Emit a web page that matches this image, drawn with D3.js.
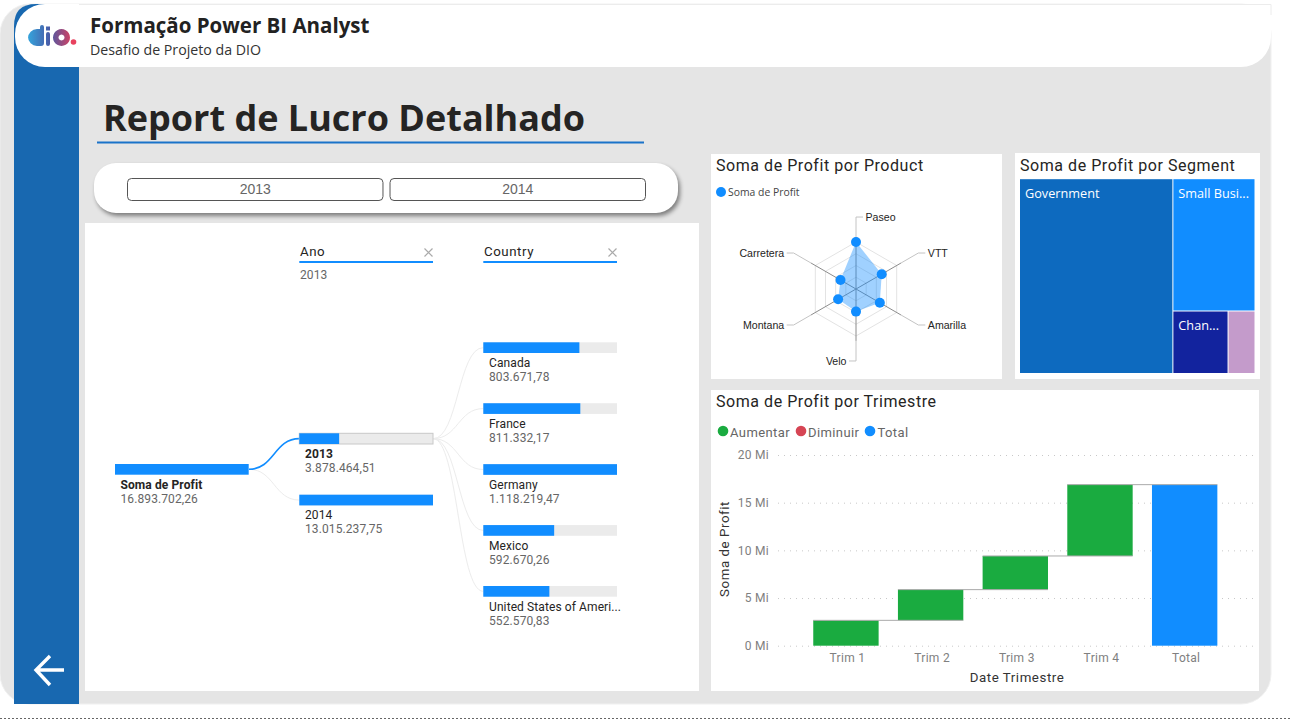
<!DOCTYPE html>
<html>
<head>
<meta charset="utf-8">
<script src="https://d3js.org/d3.v7.min.js"></script>
<style>
body { margin: 0; background: #fff; }
svg { display: block; }
text { font-family: "Open Sans", sans-serif; }
.din { font-family: Roboto, sans-serif; letter-spacing: 0.55px; }
.arial { font-family: "Liberation Sans", Arial, sans-serif; }
.tree { font-family: Roboto, sans-serif; letter-spacing: 0.1px; }
</style>
</head>
<body>
<svg id="page" width="1292" height="719"></svg>
<script>
// dados
var YEARS = ["2013", "2014"];
var YEAR_VALUES = [3878464.51, 13015237.75];
var YEAR_LABELS = ["3.878.464,51", "13.015.237,75"];
var COUNTRIES = ["Canada", "France", "Germany", "Mexico", "United States of Ameri..."];
var COUNTRY_VALUES = [803671.78, 811332.17, 1118219.47, 592670.26, 552570.83];
var COUNTRY_LABELS = ["803.671,78", "811.332,17", "1.118.219,47", "592.670,26", "552.570,83"];

var PRODUCTS = ["Paseo", "VTT", "Amarilla", "Velo", "Montana", "Carretera"];
var PRODUCT_PROFIT = [4.8, 3.03, 2.81, 2.31, 2.11, 1.83];
var RADAR_RINGS = [1.2, 2.4, 3.6, 4.8];

var SEGMENTS = ["Government", "Small Business", "Channel Partners", "Midmarket"];
var SEGMENT_LABELS = ["Government", "Small Busi...", "Chan...", ""];
var SEGMENT_PROFIT = [11.0, 4.0, 1.27, 0.62];
var SEGMENT_COLORS = ["#0d6abf", "#118dff", "#12239e", "#c49bcb"];

var QUARTERS = ["Trim 1", "Trim 2", "Trim 3", "Trim 4"];
var QUARTER_DELTAS = [2.66, 3.22, 3.53, 7.48];
var WATERFALL_TICKS = [0, 5, 10, 15, 20];

var BLUE = "#118dff";
var GREEN = "#1aab40";
var RED = "#d64554";

var svg = d3.select("#page");

function addText(parent, x, y, str, size, color, cls) {
    return parent.append("text")
        .attr("x", x)
        .attr("y", y)
        .attr("class", cls || null)
        .attr("font-size", size)
        .attr("fill", color)
        .text(str);
}

function panel(x, y, w, h) {
    svg.append("rect").attr("x", x).attr("y", y).attr("width", w).attr("height", h).attr("fill", "#fff");
}

// fundo
svg.append("rect").attr("x", 0).attr("y", 4).attr("width", 1271).attr("height", 700)
    .attr("rx", 30).attr("fill", "#e5e5e5").attr("stroke", "#f0f0f0");
svg.append("path").attr("d", "M79 4H36Q14 4 14 26V704H79Z").attr("fill", "#1868b0");
svg.append("rect").attr("x", 15).attr("y", 4).attr("width", 1256).attr("height", 63)
    .attr("rx", 30).attr("fill", "#fff");
svg.append("rect").attr("x", 1230).attr("y", 4).attr("width", 41).attr("height", 30).attr("fill", "#fff");
svg.append("path").attr("d", "M79 4.5H1271V15").attr("fill", "none").attr("stroke", "#ececec");
svg.append("line").attr("x1", 0).attr("x2", 1292).attr("y1", 718.5).attr("y2", 718.5)
    .attr("stroke", "#666").attr("stroke-dasharray", "2,2");

// seta
svg.append("path").attr("d", "M64 670H36M50 656L36 670L50 685")
    .attr("fill", "none").attr("stroke", "#fff").attr("stroke-width", 3.4);

// logo
var grad = svg.append("defs").append("linearGradient").attr("id", "logoGrad")
    .attr("gradientUnits", "userSpaceOnUse")
    .attr("x1", 28).attr("x2", 72).attr("y1", 0).attr("y2", 0);
grad.append("stop").attr("offset", "0%").attr("stop-color", "#35a4dc");
grad.append("stop").attr("offset", "50%").attr("stop-color", "#4a5aa6");
grad.append("stop").attr("offset", "100%").attr("stop-color", "#d9405f");
svg.append("path").attr("fill-rule", "evenodd").attr("fill", "url(#logoGrad)")
    .attr("d", "M28 38a9 9 0 0 1 9-9h3v-2a2 2 0 0 1 4 0v16a3 3 0 0 1-3 3h-4a9 9 0 0 1-9-9Z"
        + "M46 34a2 2 0 0 1 4 0v10a2 2 0 0 1-4 0Z"
        + "M46 26.5h4v4h-4Z"
        + "M61.500 29a8.500 8.500 0 1 1-.01 0ZM61.500 34.500a3 3 0 1 0 .01 0Z");
svg.append("circle").attr("cx", 73.5).attr("cy", 42).attr("r", 2.8).attr("fill", "#e8415e");

// titulos
addText(svg, 90, 33, "Formação Power BI Analyst", 20.5, "#222").attr("font-weight", 700);
addText(svg, 90, 55, "Desafio de Projeto da DIO", 14.2, "#333");
addText(svg, 103, 131, "Report de Lucro Detalhado", 36, "#252423").attr("font-weight", 700);
svg.append("line").attr("x1", 97).attr("x2", 644).attr("y1", 142.5).attr("y2", 142.5)
    .attr("stroke", "#1a73c9").attr("stroke-width", 2);

// segmentador de ano
svg.append("rect").attr("x", 94).attr("y", 163).attr("width", 584).attr("height", 50).attr("rx", 22)
    .attr("fill", "#fff").style("filter", "drop-shadow(2px 3px 2px rgba(0,0,0,0.45))");
var yearButton = d3.scaleBand().domain(YEARS).range([127, 646]).paddingInner(0.023);
YEARS.forEach(function (year) {
    svg.append("rect").attr("x", yearButton(year) + 0.5).attr("y", 178.5)
        .attr("width", yearButton.bandwidth() - 1).attr("height", 22).attr("rx", 4)
        .attr("fill", "#fff").attr("stroke", "#555");
    addText(svg, yearButton(year) + yearButton.bandwidth() / 2, 194, year, 14, "#666", "arial")
        .attr("text-anchor", "middle");
});

// arvore de decomposicao
panel(85, 223, 614, 468);
var BAR_W = 133.7;
var BAR_H = 10.7;
var tree = svg.append("g");
var yearBar = d3.scaleLinear().domain([0, d3.max(YEAR_VALUES)]).range([0, BAR_W]);
var countryBar = d3.scaleLinear().domain([0, d3.max(COUNTRY_VALUES)]).range([0, BAR_W]);
var yearY = d3.scalePoint().domain(YEARS).range([433.3, 494.7]);
var countryY = d3.scalePoint().domain(COUNTRIES).range([342.3, 586]);
var link = d3.linkHorizontal();

COUNTRIES.forEach(function (c) {
    tree.append("path")
        .attr("d", link({ source: [433, yearY("2013") + BAR_H / 2], target: [483.3, countryY(c) + BAR_H / 2] }))
        .attr("fill", "none").attr("stroke", "#ececec");
});
YEARS.slice().reverse().forEach(function (year) {
    tree.append("path")
        .attr("d", link({ source: [249, 469.3], target: [299.3, yearY(year) + BAR_H / 2] }))
        .attr("fill", "none")
        .attr("stroke", year === "2013" ? BLUE : "#ececec")
        .attr("stroke-width", year === "2013" ? 1.6 : 1);
});

tree.append("rect").attr("x", 115).attr("y", 464).attr("width", BAR_W).attr("height", BAR_H).attr("fill", BLUE);
addText(tree, 120.5, 489, "Soma de Profit", 12, "#252423", "tree").attr("font-weight", 700);
addText(tree, 120.5, 503, "16.893.702,26", 12, "#666", "tree");

YEARS.forEach(function (year, i) {
    var y = yearY(year);
    tree.append("rect").attr("x", 299.3).attr("y", y).attr("width", BAR_W).attr("height", BAR_H)
        .attr("fill", "#ebebeb").attr("stroke", i === 0 ? "#c8c8c8" : "none");
    tree.append("rect").attr("x", 299.3).attr("y", y).attr("width", yearBar(YEAR_VALUES[i])).attr("height", BAR_H)
        .attr("fill", BLUE);
    addText(tree, 305, y + 24.5, year, 12, "#252423", "tree").attr("font-weight", i === 0 ? 700 : 400);
    addText(tree, 305, y + 38.5, YEAR_LABELS[i], 12, "#666", "tree");
});

COUNTRIES.forEach(function (c, i) {
    var y = countryY(c);
    tree.append("rect").attr("x", 483.3).attr("y", y).attr("width", BAR_W).attr("height", BAR_H).attr("fill", "#ebebeb");
    tree.append("rect").attr("x", 483.3).attr("y", y).attr("width", countryBar(COUNTRY_VALUES[i])).attr("height", BAR_H)
        .attr("fill", BLUE);
    addText(tree, 489, y + 24.5, c, 12, "#252423", "tree");
    addText(tree, 489, y + 38.5, COUNTRY_LABELS[i], 12, "#666", "tree");
});

[["Ano", 299.3], ["Country", 483.3]].forEach(function (h) {
    addText(tree, h[1] + 0.7, 256, h[0], 13.3, "#252423", "din");
    tree.append("line").attr("x1", h[1]).attr("x2", h[1] + BAR_W).attr("y1", 262).attr("y2", 262)
        .attr("stroke", BLUE).attr("stroke-width", 2);
    var cx = h[1] + BAR_W - 4.5;
    tree.append("path").attr("d", "M" + (cx - 4) + " 248.5L" + (cx + 4) + " 256.5M" + (cx + 4) + " 248.5L" + (cx - 4) + " 256.5")
        .attr("stroke", "#aaa").attr("stroke-width", 1.2);
});
addText(tree, 300, 279, "2013", 12, "#666", "tree");

// radar
panel(711, 154, 291, 225);
addText(svg, 716, 171, "Soma de Profit por Product", 16, "#252423", "din");
svg.append("circle").attr("cx", 721).attr("cy", 192).attr("r", 5).attr("fill", BLUE);
addText(svg, 728, 196, "Soma de Profit", 10.4, "#444");

var radar = svg.append("g").attr("transform", "translate(856,289)");
var rScale = d3.scaleLinear().domain([0, 4.8]).range([0, 47]);
var angle = d3.scalePoint().domain(PRODUCTS).range([0, Math.PI * 2 * 5 / 6]);
var ringLine = d3.lineRadial().curve(d3.curveLinearClosed);

RADAR_RINGS.forEach(function (ring) {
    radar.append("path")
        .attr("d", ringLine(PRODUCTS.map(function (p) { return [angle(p), rScale(ring)]; })))
        .attr("fill", "none").attr("stroke", "#e3e3e3");
});
var AXIS_R = rScale(5.3);
var LEADER_R = rScale(7.35);
PRODUCTS.forEach(function (p) {
    var a = angle(p);
    var sx = Math.sin(a), sy = -Math.cos(a);
    radar.append("line").attr("x2", AXIS_R * sx).attr("y2", AXIS_R * sy).attr("stroke", "#8c8c8c");
    var lx = LEADER_R * sx, ly = LEADER_R * sy;
    var right = (p === "Paseo" || sx > 0.1);
    var ex = lx + (right ? 7 : -7);
    radar.append("polyline")
        .attr("points", [[AXIS_R * sx, AXIS_R * sy], [lx, ly], [ex, ly]].join(" "))
        .attr("fill", "none").attr("stroke", "#c4c4c4");
    addText(radar, ex + (right ? 2.5 : -2.5), ly + 4, p, 10.6, "#252423", "arial")
        .attr("text-anchor", right ? "start" : "end");
});
radar.append("path")
    .attr("d", ringLine(PRODUCTS.map(function (p, i) { return [angle(p), rScale(PRODUCT_PROFIT[i])]; })))
    .attr("fill", BLUE).attr("fill-opacity", 0.4);
PRODUCTS.forEach(function (p, i) {
    var a = angle(p), r = rScale(PRODUCT_PROFIT[i]);
    radar.append("circle").attr("cx", r * Math.sin(a)).attr("cy", -r * Math.cos(a)).attr("r", 5).attr("fill", BLUE);
});

// treemap
panel(1015, 153, 245, 226);
addText(svg, 1020, 171, "Soma de Profit por Segment", 16, "#252423", "din");
var root = d3.hierarchy({
    children: SEGMENTS.map(function (s, i) { return { i: i, value: SEGMENT_PROFIT[i] }; })
}).sum(function (d) { return d.value || 0; });
d3.treemap().size([234.5, 193.8]).paddingInner(1).tile(d3.treemapSquarify)(root);
var tm = svg.append("g").attr("transform", "translate(1020,179.2)");
root.leaves().forEach(function (leaf) {
    tm.append("rect").attr("x", leaf.x0).attr("y", leaf.y0)
        .attr("width", leaf.x1 - leaf.x0).attr("height", leaf.y1 - leaf.y0)
        .attr("fill", SEGMENT_COLORS[leaf.data.i]);
    addText(tm, leaf.x0 + 5, leaf.y0 + 18.5, SEGMENT_LABELS[leaf.data.i], 12.7, "#fff");
});

// cascata
panel(711, 390, 548, 301);
addText(svg, 716, 407, "Soma de Profit por Trimestre", 16, "#252423", "din");

var legendItems = [["Aumentar", GREEN, 723, 730], ["Diminuir", RED, 801, 808], ["Total", BLUE, 870, 877.5]];
legendItems.forEach(function (d) {
    svg.append("circle").attr("cx", d[2]).attr("cy", 431).attr("r", 5.3).attr("fill", d[1]);
    addText(svg, d[3], 437, d[0], 13, "#666", "din").style("letter-spacing", "0.4px");
});

var xCats = QUARTERS.concat(["Total"]);
var x = d3.scaleBand().domain(xCats).range([803.6, 1227]).paddingInner(0.228).paddingOuter(0.114);
var y = d3.scaleLinear().domain([0, 20]).range([645.7, 455]);

var yAxis = svg.append("g").attr("transform", "translate(778,0)")
    .call(d3.axisLeft(y).tickValues(WATERFALL_TICKS).tickSize(0).tickPadding(9)
        .tickFormat(function (d) { return d + " Mi"; }));
yAxis.select(".domain").remove();
yAxis.selectAll("text").attr("class", "din").attr("font-size", 12).attr("fill", "#808080")
    .style("letter-spacing", "0.3px");
yAxis.selectAll(".tick").append("line").attr("x2", 476)
    .attr("stroke", "#c8c8c8").attr("stroke-dasharray", "1,5");

var running = 0;
var steps = QUARTER_DELTAS.map(function (d, i) {
    var s = { cat: QUARTERS[i], from: running, to: running + d, color: GREEN };
    running += d;
    return s;
});
steps.push({ cat: "Total", from: 0, to: running, color: BLUE });

steps.forEach(function (s) {
    svg.append("rect").attr("x", x(s.cat)).attr("y", y(s.to))
        .attr("width", x.bandwidth()).attr("height", y(s.from) - y(s.to)).attr("fill", s.color);
});
steps.slice(0, -1).forEach(function (s, i) {
    var next = steps[i + 1];
    svg.append("line").attr("x1", x(s.cat)).attr("x2", x(next.cat) + x.bandwidth())
        .attr("y1", y(s.to)).attr("y2", y(s.to)).attr("stroke", "#aaa");
});

var xAxis = svg.append("g").attr("transform", "translate(1.5,645.7)")
    .call(d3.axisBottom(x).tickSize(0).tickPadding(8));
xAxis.select(".domain").remove();
xAxis.selectAll("text").attr("class", "din").attr("font-size", 12).attr("fill", "#808080")
    .style("letter-spacing", "0.3px");

addText(svg, 1017, 682, "Date Trimestre", 13.3, "#333", "din").attr("text-anchor", "middle");
addText(svg, 0, 0, "Soma de Profit", 13.3, "#333", "din")
    .attr("text-anchor", "middle")
    .attr("transform", "translate(729,549) rotate(-90)");
</script>
</body>
</html>
